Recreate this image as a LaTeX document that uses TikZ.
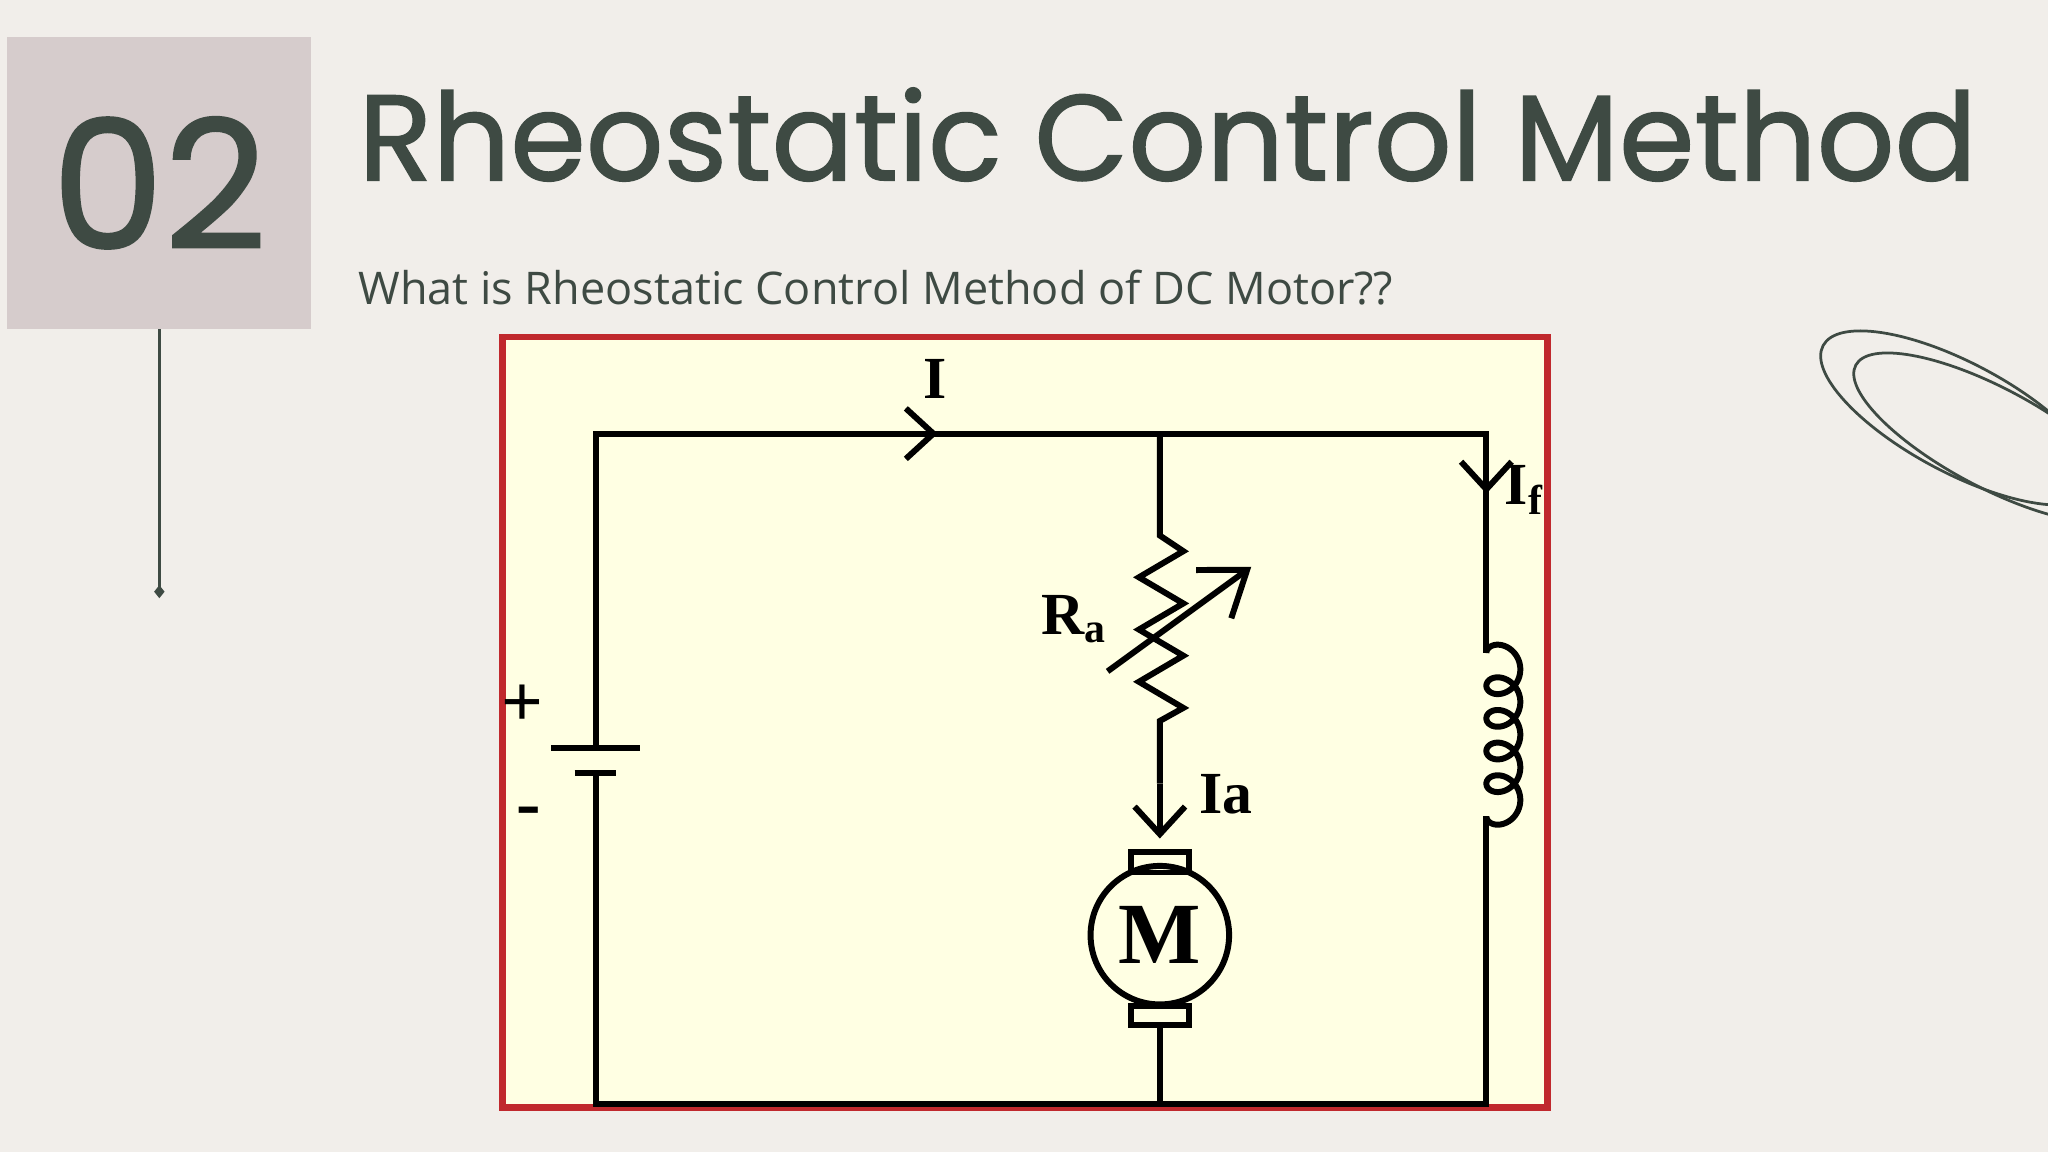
\documentclass[tikz,border=0pt]{standalone}
\usepackage{fontspec}
\setmainfont{Liberation Serif}
\newfontfamily\titlefont[FakeBold=1.2]{Poppins}
\newfontfamily\subfont{Open Sans}
\usetikzlibrary{arrows.meta,positioning}
\definecolor{paper}{HTML}{F1EEEA}
\definecolor{tagbox}{HTML}{D6CCCC}
\definecolor{ink}{HTML}{3E4A43}
\definecolor{panel}{HTML}{FFFFE3}
\definecolor{frame}{HTML}{C0282D}
\tikzset{
  wire/.style={line width=1.3pt, black},
  flow/.style={-{Straight Barb[length=6pt,width=11pt]}, line width=1.3pt},
  lbl/.style={font=\bfseries\fontsize{13}{16}\selectfont, inner sep=1pt},
}
\begin{document}
\begin{tikzpicture}[x=0.01cm, y=-0.01cm]
    \useasboundingbox (0,0) rectangle (1568,882);
    \fill[paper] (0,0) rectangle (1568,882);
    % heading
    \fill[tagbox] (5,28) rectangle (238,252);
    \node[text=ink, font=\titlefont\fontsize{39}{44}\selectfont] (num) at (122,140) {02};
    \node[text=ink, anchor=west, font=\titlefont\fontsize{26.5}{32}\selectfont] (title) at (262,103) {Rheostatic Control Method};
    \node[text=ink, anchor=west, font=\subfont\fontsize{9.8}{12}\selectfont] (sub) at (262,220) {What is Rheostatic Control Method of DC Motor??};
    \draw[ink, line width=0.8pt] (122,252) -- (122,452);
    \fill[ink] (122,448) -- (126,453) -- (122,458) -- (118,453) -- cycle;
    % swirl
    \draw[ink, line width=0.6pt, rotate around={-28:(1500,320)}] (1500,320) ellipse (118 and 42);
    \draw[ink, line width=0.6pt, rotate around={-28:(1525,335)}] (1525,335) ellipse (118 and 38);
    % panel
    \draw[frame, fill=panel, line width=1.5pt] (385,258) rectangle (1185,848);
    % circuit
    \coordinate (tl) at (456,332);
    \coordinate (tm) at (888,332);
    \coordinate (tr) at (1138,332);
    \coordinate (bl) at (456,845);
    \coordinate (bm) at (888,845);
    \coordinate (br) at (1138,845);
    \coordinate (batp) at (456,573);
    \coordinate (batn) at (456,592);
    \draw[wire] (batp) -- (tl) -- (tr) -- (1138,500);
    \draw[wire] (batn) -- (bl) -- (br) -- (1138,625);
    \draw[wire] (422,573) -- (490,573);
    \draw[wire] (440,592) -- (472,592);
    \node[font=\bfseries\fontsize{16}{16}\selectfont] (plus) at (400,540) {+};
    \node[font=\bfseries\fontsize{16}{16}\selectfont] (minus) at (405,626) {-};
    \draw[flow] (600,332) -- (718,332);
    \node[lbl] (ilab) at (716,290) {I};
    % armature branch
    \draw[wire] (tm) -- (888,410) -- (906,422) -- (872,442) -- (906,462) -- (872,482)
        -- (906,502) -- (872,522) -- (906,542) -- (888,552) -- (888,600);
    \draw[flow] (888,600) -- (888,642);
    \node[lbl, anchor=west] (ialab) at (914,608) {Ia};
    \draw[line width=1.3pt, -{Straight Barb[length=9pt,width=13pt]}] (848,514) -- (958,434);
    \node[lbl] (ralab) at (823,474) {R\textsubscript{a}};
    \draw[wire] (866,652) rectangle (910,668);
    \node[draw, circle, line width=1.3pt, minimum size=1.06cm, inner sep=0pt,
          font=\bfseries\fontsize{19}{20}\selectfont] (motor) at (888,716) {M};
    \draw[wire] (866,770) rectangle (910,785);
    \draw[wire] (888,785) -- (bm);
    % field branch
    \draw[flow] (1138,332) -- (1138,378);
    \node[lbl, anchor=west] (iflab) at (1148,375) {I\textsubscript{f}};
    \draw[wire] plot[domain=0:1800, samples=300, smooth]
        ({1151-13*cos(\x)}, {500+\x/14.4-12*sin(\x)});
\end{tikzpicture}
\end{document}
